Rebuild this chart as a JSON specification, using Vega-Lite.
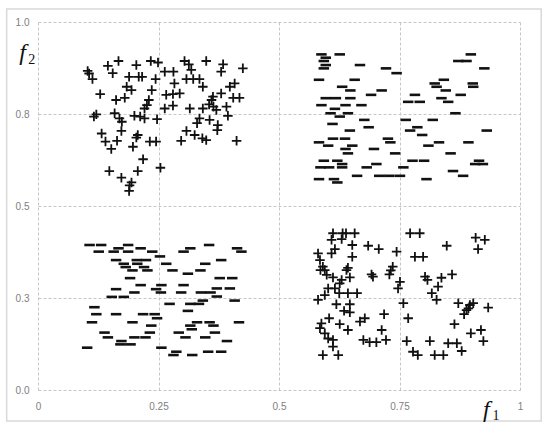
{
  "$schema": "https://vega.github.io/schema/vega-lite/v6.json",
  "width": 482,
  "height": 368,
  "autosize": {"type": "none"},
  "padding": {"left": 38, "top": 22, "right": 30, "bottom": 40},
  "background": "white",
  "config": {
    "view": {"stroke": null},
    "axis": {
      "domain": false, "ticks": false, "grid": true,
      "gridColor": "#c6c6c6", "gridDash": [3, 2], "gridWidth": 1,
      "labelFont": "Liberation Sans", "labelFontSize": 10, "labelColor": "#808080",
      "labelFlush": false, "labelOverlap": false, "title": null
    }
  },
  "datasets": {
    "pts": [
      {"f1":0.103,"f2":0.867,"sign":"+"},{"f1":0.106,"f2":0.860,"sign":"+"},{"f1":0.113,"f2":0.845,"sign":"+"},{"f1":0.145,"f2":0.881,"sign":"+"},
      {"f1":0.167,"f2":0.894,"sign":"+"},{"f1":0.155,"f2":0.861,"sign":"+"},{"f1":0.204,"f2":0.883,"sign":"+"},{"f1":0.189,"f2":0.851,"sign":"+"},
      {"f1":0.209,"f2":0.851,"sign":"+"},{"f1":0.216,"f2":0.851,"sign":"+"},{"f1":0.234,"f2":0.894,"sign":"+"},{"f1":0.249,"f2":0.890,"sign":"+"},
      {"f1":0.244,"f2":0.845,"sign":"+"},{"f1":0.129,"f2":0.804,"sign":"+"},{"f1":0.184,"f2":0.824,"sign":"+"},{"f1":0.194,"f2":0.815,"sign":"+"},
      {"f1":0.236,"f2":0.815,"sign":"+"},{"f1":0.180,"f2":0.794,"sign":"+"},{"f1":0.162,"f2":0.788,"sign":"+"},{"f1":0.230,"f2":0.788,"sign":"+"},
      {"f1":0.226,"f2":0.774,"sign":"+"},{"f1":0.221,"f2":0.765,"sign":"+"},{"f1":0.121,"f2":0.749,"sign":"+"},{"f1":0.116,"f2":0.743,"sign":"+"},
      {"f1":0.159,"f2":0.752,"sign":"+"},{"f1":0.169,"f2":0.738,"sign":"+"},{"f1":0.174,"f2":0.729,"sign":"+"},{"f1":0.200,"f2":0.745,"sign":"+"},
      {"f1":0.212,"f2":0.743,"sign":"+"},{"f1":0.221,"f2":0.738,"sign":"+"},{"f1":0.247,"f2":0.736,"sign":"+"},{"f1":0.304,"f2":0.894,"sign":"+"},
      {"f1":0.313,"f2":0.885,"sign":"+"},{"f1":0.349,"f2":0.894,"sign":"+"},{"f1":0.384,"f2":0.885,"sign":"+"},{"f1":0.425,"f2":0.874,"sign":"+"},
      {"f1":0.263,"f2":0.865,"sign":"+"},{"f1":0.281,"f2":0.865,"sign":"+"},{"f1":0.318,"f2":0.870,"sign":"+"},{"f1":0.380,"f2":0.865,"sign":"+"},
      {"f1":0.283,"f2":0.833,"sign":"+"},{"f1":0.308,"f2":0.845,"sign":"+"},{"f1":0.322,"f2":0.845,"sign":"+"},{"f1":0.335,"f2":0.845,"sign":"+"},
      {"f1":0.342,"f2":0.824,"sign":"+"},{"f1":0.398,"f2":0.824,"sign":"+"},{"f1":0.408,"f2":0.833,"sign":"+"},{"f1":0.266,"f2":0.802,"sign":"+"},
      {"f1":0.280,"f2":0.804,"sign":"+"},{"f1":0.294,"f2":0.806,"sign":"+"},{"f1":0.363,"f2":0.797,"sign":"+"},{"f1":0.380,"f2":0.806,"sign":"+"},
      {"f1":0.405,"f2":0.794,"sign":"+"},{"f1":0.418,"f2":0.794,"sign":"+"},{"f1":0.263,"f2":0.765,"sign":"+"},{"f1":0.280,"f2":0.773,"sign":"+"},
      {"f1":0.315,"f2":0.765,"sign":"+"},{"f1":0.342,"f2":0.765,"sign":"+"},{"f1":0.355,"f2":0.776,"sign":"+"},{"f1":0.360,"f2":0.788,"sign":"+"},
      {"f1":0.364,"f2":0.770,"sign":"+"},{"f1":0.370,"f2":0.761,"sign":"+"},{"f1":0.391,"f2":0.770,"sign":"+"},{"f1":0.394,"f2":0.745,"sign":"+"},
      {"f1":0.335,"f2":0.738,"sign":"+"},{"f1":0.356,"f2":0.734,"sign":"+"},{"f1":0.373,"f2":0.720,"sign":"+"},{"f1":0.330,"f2":0.725,"sign":"+"},
      {"f1":0.132,"f2":0.697,"sign":"+"},{"f1":0.173,"f2":0.704,"sign":"+"},{"f1":0.207,"f2":0.693,"sign":"+"},{"f1":0.204,"f2":0.686,"sign":"+"},
      {"f1":0.140,"f2":0.675,"sign":"+"},{"f1":0.164,"f2":0.677,"sign":"+"},{"f1":0.197,"f2":0.661,"sign":"+"},{"f1":0.152,"f2":0.655,"sign":"+"},
      {"f1":0.232,"f2":0.675,"sign":"+"},{"f1":0.245,"f2":0.675,"sign":"+"},{"f1":0.297,"f2":0.677,"sign":"+"},{"f1":0.308,"f2":0.704,"sign":"+"},
      {"f1":0.325,"f2":0.693,"sign":"+"},{"f1":0.341,"f2":0.684,"sign":"+"},{"f1":0.349,"f2":0.679,"sign":"+"},{"f1":0.372,"f2":0.706,"sign":"+"},
      {"f1":0.412,"f2":0.677,"sign":"+"},{"f1":0.218,"f2":0.627,"sign":"+"},{"f1":0.148,"f2":0.595,"sign":"+"},{"f1":0.207,"f2":0.595,"sign":"+"},
      {"f1":0.254,"f2":0.604,"sign":"+"},{"f1":0.173,"f2":0.577,"sign":"+"},{"f1":0.194,"f2":0.564,"sign":"+"},{"f1":0.190,"f2":0.556,"sign":"+"},
      {"f1":0.189,"f2":0.541,"sign":"+"},

      {"f1":0.588,"f2":0.912,"sign":"-"},{"f1":0.626,"f2":0.912,"sign":"-"},{"f1":0.597,"f2":0.903,"sign":"-"},{"f1":0.593,"f2":0.894,"sign":"-"},
      {"f1":0.597,"f2":0.883,"sign":"-"},{"f1":0.593,"f2":0.874,"sign":"-"},{"f1":0.668,"f2":0.883,"sign":"-"},{"f1":0.722,"f2":0.874,"sign":"-"},
      {"f1":0.744,"f2":0.861,"sign":"-"},{"f1":0.583,"f2":0.843,"sign":"-"},{"f1":0.657,"f2":0.843,"sign":"-"},{"f1":0.631,"f2":0.824,"sign":"-"},
      {"f1":0.648,"f2":0.814,"sign":"-"},{"f1":0.713,"f2":0.814,"sign":"-"},{"f1":0.691,"f2":0.802,"sign":"-"},{"f1":0.597,"f2":0.793,"sign":"-"},
      {"f1":0.618,"f2":0.793,"sign":"-"},{"f1":0.648,"f2":0.793,"sign":"-"},{"f1":0.588,"f2":0.774,"sign":"-"},{"f1":0.638,"f2":0.774,"sign":"-"},
      {"f1":0.671,"f2":0.774,"sign":"-"},{"f1":0.616,"f2":0.764,"sign":"-"},{"f1":0.607,"f2":0.752,"sign":"-"},{"f1":0.643,"f2":0.752,"sign":"-"},
      {"f1":0.898,"f2":0.912,"sign":"-"},{"f1":0.872,"f2":0.894,"sign":"-"},{"f1":0.889,"f2":0.894,"sign":"-"},{"f1":0.926,"f2":0.874,"sign":"-"},
      {"f1":0.842,"f2":0.843,"sign":"-"},{"f1":0.823,"f2":0.833,"sign":"-"},{"f1":0.827,"f2":0.824,"sign":"-"},{"f1":0.846,"f2":0.814,"sign":"-"},
      {"f1":0.902,"f2":0.833,"sign":"-"},{"f1":0.903,"f2":0.824,"sign":"-"},{"f1":0.782,"f2":0.802,"sign":"-"},{"f1":0.877,"f2":0.802,"sign":"-"},
      {"f1":0.837,"f2":0.793,"sign":"-"},{"f1":0.768,"f2":0.783,"sign":"-"},{"f1":0.792,"f2":0.783,"sign":"-"},{"f1":0.851,"f2":0.783,"sign":"-"},
      {"f1":0.866,"f2":0.752,"sign":"-"},{"f1":0.626,"f2":0.743,"sign":"-"},{"f1":0.677,"f2":0.734,"sign":"-"},{"f1":0.763,"f2":0.734,"sign":"-"},
      {"f1":0.819,"f2":0.734,"sign":"-"},{"f1":0.611,"f2":0.723,"sign":"-"},{"f1":0.686,"f2":0.714,"sign":"-"},{"f1":0.787,"f2":0.714,"sign":"-"},
      {"f1":0.647,"f2":0.705,"sign":"-"},{"f1":0.772,"f2":0.705,"sign":"-"},{"f1":0.931,"f2":0.705,"sign":"-"},{"f1":0.797,"f2":0.693,"sign":"-"},
      {"f1":0.612,"f2":0.683,"sign":"-"},{"f1":0.637,"f2":0.683,"sign":"-"},{"f1":0.726,"f2":0.683,"sign":"-"},{"f1":0.583,"f2":0.673,"sign":"-"},
      {"f1":0.731,"f2":0.673,"sign":"-"},{"f1":0.832,"f2":0.673,"sign":"-"},{"f1":0.893,"f2":0.673,"sign":"-"},{"f1":0.602,"f2":0.664,"sign":"-"},
      {"f1":0.652,"f2":0.664,"sign":"-"},{"f1":0.810,"f2":0.664,"sign":"-"},{"f1":0.638,"f2":0.655,"sign":"-"},{"f1":0.697,"f2":0.655,"sign":"-"},
      {"f1":0.643,"f2":0.643,"sign":"-"},{"f1":0.741,"f2":0.643,"sign":"-"},{"f1":0.856,"f2":0.643,"sign":"-"},{"f1":0.593,"f2":0.623,"sign":"-"},
      {"f1":0.621,"f2":0.623,"sign":"-"},{"f1":0.777,"f2":0.623,"sign":"-"},{"f1":0.801,"f2":0.623,"sign":"-"},{"f1":0.915,"f2":0.623,"sign":"-"},
      {"f1":0.631,"f2":0.614,"sign":"-"},{"f1":0.702,"f2":0.614,"sign":"-"},{"f1":0.907,"f2":0.614,"sign":"-"},{"f1":0.923,"f2":0.614,"sign":"-"},
      {"f1":0.586,"f2":0.605,"sign":"-"},{"f1":0.604,"f2":0.605,"sign":"-"},{"f1":0.631,"f2":0.605,"sign":"-"},{"f1":0.682,"f2":0.605,"sign":"-"},
      {"f1":0.758,"f2":0.605,"sign":"-"},{"f1":0.861,"f2":0.595,"sign":"-"},{"f1":0.662,"f2":0.582,"sign":"-"},{"f1":0.708,"f2":0.582,"sign":"-"},
      {"f1":0.729,"f2":0.582,"sign":"-"},{"f1":0.751,"f2":0.582,"sign":"-"},{"f1":0.882,"f2":0.582,"sign":"-"},{"f1":0.583,"f2":0.573,"sign":"-"},
      {"f1":0.614,"f2":0.573,"sign":"-"},{"f1":0.806,"f2":0.573,"sign":"-"},{"f1":0.621,"f2":0.564,"sign":"-"},

      {"f1":0.107,"f2":0.394,"sign":"-"},{"f1":0.131,"f2":0.394,"sign":"-"},{"f1":0.187,"f2":0.394,"sign":"-"},{"f1":0.167,"f2":0.385,"sign":"-"},
      {"f1":0.213,"f2":0.385,"sign":"-"},{"f1":0.126,"f2":0.376,"sign":"-"},{"f1":0.157,"f2":0.376,"sign":"-"},{"f1":0.187,"f2":0.376,"sign":"-"},
      {"f1":0.237,"f2":0.376,"sign":"-"},{"f1":0.253,"f2":0.363,"sign":"-"},{"f1":0.162,"f2":0.353,"sign":"-"},{"f1":0.205,"f2":0.353,"sign":"-"},
      {"f1":0.224,"f2":0.353,"sign":"-"},{"f1":0.178,"f2":0.343,"sign":"-"},{"f1":0.206,"f2":0.343,"sign":"-"},{"f1":0.182,"f2":0.334,"sign":"-"},
      {"f1":0.220,"f2":0.334,"sign":"-"},{"f1":0.196,"f2":0.325,"sign":"-"},{"f1":0.227,"f2":0.325,"sign":"-"},{"f1":0.191,"f2":0.304,"sign":"-"},
      {"f1":0.213,"f2":0.285,"sign":"-"},{"f1":0.256,"f2":0.285,"sign":"-"},{"f1":0.162,"f2":0.274,"sign":"-"},{"f1":0.245,"f2":0.274,"sign":"-"},
      {"f1":0.200,"f2":0.265,"sign":"-"},{"f1":0.255,"f2":0.265,"sign":"-"},{"f1":0.153,"f2":0.253,"sign":"-"},{"f1":0.178,"f2":0.253,"sign":"-"},
      {"f1":0.117,"f2":0.225,"sign":"-"},{"f1":0.121,"f2":0.206,"sign":"-"},{"f1":0.162,"f2":0.206,"sign":"-"},{"f1":0.218,"f2":0.206,"sign":"-"},
      {"f1":0.242,"f2":0.206,"sign":"-"},{"f1":0.247,"f2":0.195,"sign":"-"},{"f1":0.112,"f2":0.184,"sign":"-"},{"f1":0.196,"f2":0.184,"sign":"-"},
      {"f1":0.235,"f2":0.175,"sign":"-"},{"f1":0.138,"f2":0.156,"sign":"-"},{"f1":0.232,"f2":0.156,"sign":"-"},{"f1":0.145,"f2":0.143,"sign":"-"},
      {"f1":0.200,"f2":0.143,"sign":"-"},{"f1":0.223,"f2":0.143,"sign":"-"},{"f1":0.173,"f2":0.133,"sign":"-"},{"f1":0.171,"f2":0.124,"sign":"-"},
      {"f1":0.192,"f2":0.124,"sign":"-"},{"f1":0.102,"f2":0.115,"sign":"-"},{"f1":0.256,"f2":0.115,"sign":"-"},
      {"f1":0.355,"f2":0.394,"sign":"-"},{"f1":0.316,"f2":0.385,"sign":"-"},{"f1":0.413,"f2":0.385,"sign":"-"},{"f1":0.302,"f2":0.376,"sign":"-"},
      {"f1":0.422,"f2":0.376,"sign":"-"},{"f1":0.380,"f2":0.353,"sign":"-"},{"f1":0.266,"f2":0.343,"sign":"-"},{"f1":0.347,"f2":0.343,"sign":"-"},
      {"f1":0.279,"f2":0.325,"sign":"-"},{"f1":0.337,"f2":0.325,"sign":"-"},{"f1":0.311,"f2":0.316,"sign":"-"},{"f1":0.377,"f2":0.304,"sign":"-"},
      {"f1":0.403,"f2":0.304,"sign":"-"},{"f1":0.302,"f2":0.285,"sign":"-"},{"f1":0.371,"f2":0.276,"sign":"-"},{"f1":0.398,"f2":0.276,"sign":"-"},
      {"f1":0.297,"f2":0.265,"sign":"-"},{"f1":0.338,"f2":0.265,"sign":"-"},{"f1":0.358,"f2":0.265,"sign":"-"},{"f1":0.371,"f2":0.254,"sign":"-"},
      {"f1":0.342,"f2":0.243,"sign":"-"},{"f1":0.408,"f2":0.243,"sign":"-"},{"f1":0.273,"f2":0.234,"sign":"-"},{"f1":0.316,"f2":0.234,"sign":"-"},
      {"f1":0.334,"f2":0.234,"sign":"-"},{"f1":0.311,"f2":0.215,"sign":"-"},{"f1":0.330,"f2":0.184,"sign":"-"},{"f1":0.356,"f2":0.184,"sign":"-"},
      {"f1":0.417,"f2":0.184,"sign":"-"},{"f1":0.316,"f2":0.175,"sign":"-"},{"f1":0.364,"f2":0.175,"sign":"-"},{"f1":0.319,"f2":0.165,"sign":"-"},
      {"f1":0.292,"f2":0.156,"sign":"-"},{"f1":0.367,"f2":0.156,"sign":"-"},{"f1":0.306,"f2":0.143,"sign":"-"},{"f1":0.347,"f2":0.143,"sign":"-"},
      {"f1":0.392,"f2":0.133,"sign":"-"},{"f1":0.287,"f2":0.104,"sign":"-"},{"f1":0.353,"f2":0.104,"sign":"-"},{"f1":0.380,"f2":0.104,"sign":"-"},
      {"f1":0.281,"f2":0.095,"sign":"-"},{"f1":0.320,"f2":0.095,"sign":"-"},

      {"f1":0.612,"f2":0.426,"sign":"+"},{"f1":0.632,"f2":0.426,"sign":"+"},{"f1":0.639,"f2":0.426,"sign":"+"},{"f1":0.657,"f2":0.426,"sign":"+"},
      {"f1":0.609,"f2":0.408,"sign":"+"},{"f1":0.630,"f2":0.410,"sign":"+"},{"f1":0.652,"f2":0.394,"sign":"+"},{"f1":0.685,"f2":0.392,"sign":"+"},
      {"f1":0.707,"f2":0.383,"sign":"+"},{"f1":0.744,"f2":0.376,"sign":"+"},{"f1":0.616,"f2":0.383,"sign":"+"},{"f1":0.581,"f2":0.371,"sign":"+"},
      {"f1":0.609,"f2":0.371,"sign":"+"},{"f1":0.652,"f2":0.362,"sign":"+"},{"f1":0.585,"f2":0.353,"sign":"+"},{"f1":0.591,"f2":0.335,"sign":"+"},
      {"f1":0.595,"f2":0.326,"sign":"+"},{"f1":0.586,"f2":0.326,"sign":"+"},{"f1":0.643,"f2":0.332,"sign":"+"},{"f1":0.640,"f2":0.326,"sign":"+"},
      {"f1":0.599,"f2":0.313,"sign":"+"},{"f1":0.612,"f2":0.306,"sign":"+"},{"f1":0.630,"f2":0.299,"sign":"+"},{"f1":0.626,"f2":0.290,"sign":"+"},
      {"f1":0.647,"f2":0.306,"sign":"+"},{"f1":0.692,"f2":0.314,"sign":"+"},{"f1":0.695,"f2":0.308,"sign":"+"},{"f1":0.729,"f2":0.314,"sign":"+"},
      {"f1":0.736,"f2":0.335,"sign":"+"},{"f1":0.732,"f2":0.325,"sign":"+"},{"f1":0.602,"f2":0.276,"sign":"+"},{"f1":0.616,"f2":0.276,"sign":"+"},
      {"f1":0.625,"f2":0.263,"sign":"+"},{"f1":0.643,"f2":0.263,"sign":"+"},{"f1":0.662,"f2":0.263,"sign":"+"},{"f1":0.595,"f2":0.258,"sign":"+"},
      {"f1":0.581,"f2":0.245,"sign":"+"},{"f1":0.619,"f2":0.233,"sign":"+"},{"f1":0.647,"f2":0.233,"sign":"+"},{"f1":0.635,"f2":0.215,"sign":"+"},
      {"f1":0.647,"f2":0.211,"sign":"+"},{"f1":0.604,"f2":0.195,"sign":"+"},{"f1":0.588,"f2":0.181,"sign":"+"},{"f1":0.626,"f2":0.179,"sign":"+"},
      {"f1":0.643,"f2":0.163,"sign":"+"},{"f1":0.678,"f2":0.195,"sign":"+"},{"f1":0.668,"f2":0.186,"sign":"+"},{"f1":0.718,"f2":0.206,"sign":"+"},
      {"f1":0.713,"f2":0.163,"sign":"+"},{"f1":0.585,"f2":0.168,"sign":"+"},{"f1":0.595,"f2":0.154,"sign":"+"},{"f1":0.602,"f2":0.140,"sign":"+"},
      {"f1":0.612,"f2":0.136,"sign":"+"},{"f1":0.675,"f2":0.136,"sign":"+"},{"f1":0.688,"f2":0.130,"sign":"+"},{"f1":0.702,"f2":0.130,"sign":"+"},
      {"f1":0.722,"f2":0.136,"sign":"+"},{"f1":0.612,"f2":0.118,"sign":"+"},{"f1":0.591,"f2":0.095,"sign":"+"},{"f1":0.623,"f2":0.095,"sign":"+"},
      {"f1":0.772,"f2":0.426,"sign":"+"},{"f1":0.792,"f2":0.426,"sign":"+"},{"f1":0.908,"f2":0.414,"sign":"+"},{"f1":0.927,"f2":0.408,"sign":"+"},
      {"f1":0.848,"f2":0.392,"sign":"+"},{"f1":0.913,"f2":0.383,"sign":"+"},{"f1":0.782,"f2":0.362,"sign":"+"},{"f1":0.799,"f2":0.362,"sign":"+"},
      {"f1":0.751,"f2":0.294,"sign":"+"},{"f1":0.747,"f2":0.276,"sign":"+"},{"f1":0.803,"f2":0.308,"sign":"+"},{"f1":0.808,"f2":0.299,"sign":"+"},
      {"f1":0.837,"f2":0.305,"sign":"+"},{"f1":0.859,"f2":0.314,"sign":"+"},{"f1":0.830,"f2":0.281,"sign":"+"},{"f1":0.817,"f2":0.263,"sign":"+"},
      {"f1":0.827,"f2":0.245,"sign":"+"},{"f1":0.758,"f2":0.236,"sign":"+"},{"f1":0.872,"f2":0.236,"sign":"+"},{"f1":0.903,"f2":0.236,"sign":"+"},
      {"f1":0.896,"f2":0.231,"sign":"+"},{"f1":0.889,"f2":0.217,"sign":"+"},{"f1":0.884,"f2":0.206,"sign":"+"},{"f1":0.893,"f2":0.222,"sign":"+"},
      {"f1":0.934,"f2":0.224,"sign":"+"},{"f1":0.768,"f2":0.195,"sign":"+"},{"f1":0.864,"f2":0.179,"sign":"+"},{"f1":0.898,"f2":0.154,"sign":"+"},
      {"f1":0.919,"f2":0.163,"sign":"+"},{"f1":0.924,"f2":0.133,"sign":"+"},{"f1":0.765,"f2":0.133,"sign":"+"},{"f1":0.813,"f2":0.133,"sign":"+"},
      {"f1":0.851,"f2":0.127,"sign":"+"},{"f1":0.869,"f2":0.127,"sign":"+"},{"f1":0.879,"f2":0.106,"sign":"+"},{"f1":0.778,"f2":0.104,"sign":"+"},
      {"f1":0.788,"f2":0.095,"sign":"+"},{"f1":0.823,"f2":0.095,"sign":"+"},{"f1":0.841,"f2":0.095,"sign":"+"}
    ]
  },
  "layer": [
    {
      "data": {"values": [{}]},
      "mark": {"type": "rect", "fill": "transparent", "stroke": "#d9d9d9", "strokeWidth": 1.5},
      "encoding": {
        "x": {"datum": -0.065, "type": "quantitative", "scale": {"domain": [0, 1], "nice": false, "zero": false},
              "axis": {"values": [0, 0.25, 0.5, 0.75, 1], "labelExpr": "'' + datum.value", "labelPadding": 11}},
        "x2": {"datum": 1.044},
        "y": {"datum": -0.084, "type": "quantitative", "scale": {"domain": [0, 1], "nice": false, "zero": false},
              "axis": {"values": [0, 0.25, 0.5, 0.75, 1], "labelExpr": "format(datum.value, '.1f')", "labelPadding": 9}},
        "y2": {"datum": 1.035}
      }
    },
    {
      "data": {"name": "pts"},
      "transform": [{"filter": "datum.sign == '+'"}],
      "mark": {"type": "point", "shape": "M-1,0H1M0,-1V1", "size": 90, "filled": false, "stroke": "#111111", "strokeWidth": 1.8, "opacity": 1},
      "encoding": {
        "x": {"field": "f1", "type": "quantitative", "scale": {"domain": [0, 1], "nice": false, "zero": false},
              "axis": {"values": [0, 0.25, 0.5, 0.75, 1], "labelExpr": "'' + datum.value", "labelPadding": 11}},
        "y": {"field": "f2", "type": "quantitative", "scale": {"domain": [0, 1], "nice": false, "zero": false},
              "axis": {"values": [0, 0.25, 0.5, 0.75, 1], "labelExpr": "format(datum.value, '.1f')", "labelPadding": 9}}
      }
    },
    {
      "data": {"name": "pts"},
      "transform": [{"filter": "datum.sign == '-'"}],
      "mark": {"type": "point", "shape": "M-1,0H1", "size": 110, "filled": false, "stroke": "#111111", "strokeWidth": 2.6, "strokeCap": "butt", "opacity": 1},
      "encoding": {
        "x": {"field": "f1", "type": "quantitative", "scale": {"domain": [0, 1], "nice": false, "zero": false},
              "axis": {"values": [0, 0.25, 0.5, 0.75, 1], "labelExpr": "'' + datum.value", "labelPadding": 11}},
        "y": {"field": "f2", "type": "quantitative", "scale": {"domain": [0, 1], "nice": false, "zero": false},
              "axis": {"values": [0, 0.25, 0.5, 0.75, 1], "labelExpr": "format(datum.value, '.1f')", "labelPadding": 9}}
      }
    },
    {
      "data": {"values": [{"t": "f", "px": -0.032, "py": 0.915}, {"t": "f", "px": 0.93, "py": -0.055}]},
      "mark": {"type": "text", "font": "Liberation Serif", "fontStyle": "italic", "fontSize": 24, "align": "center", "baseline": "middle", "fill": "#111111"},
      "encoding": {
        "text": {"field": "t"},
        "x": {"field": "px", "type": "quantitative", "scale": {"domain": [0, 1], "nice": false, "zero": false},
              "axis": {"values": [0, 0.25, 0.5, 0.75, 1], "labelExpr": "'' + datum.value", "labelPadding": 11}},
        "y": {"field": "py", "type": "quantitative", "scale": {"domain": [0, 1], "nice": false, "zero": false},
              "axis": {"values": [0, 0.25, 0.5, 0.75, 1], "labelExpr": "format(datum.value, '.1f')", "labelPadding": 9}}
      }
    },
    {
      "data": {"values": [{"t": "2", "px": -0.013, "py": 0.898}, {"t": "1", "px": 0.95, "py": -0.072}]},
      "mark": {"type": "text", "font": "Liberation Serif", "fontSize": 14, "align": "center", "baseline": "middle", "fill": "#111111"},
      "encoding": {
        "text": {"field": "t"},
        "x": {"field": "px", "type": "quantitative", "scale": {"domain": [0, 1], "nice": false, "zero": false},
              "axis": {"values": [0, 0.25, 0.5, 0.75, 1], "labelExpr": "'' + datum.value", "labelPadding": 11}},
        "y": {"field": "py", "type": "quantitative", "scale": {"domain": [0, 1], "nice": false, "zero": false},
              "axis": {"values": [0, 0.25, 0.5, 0.75, 1], "labelExpr": "format(datum.value, '.1f')", "labelPadding": 9}}
      }
    }
  ]
}
